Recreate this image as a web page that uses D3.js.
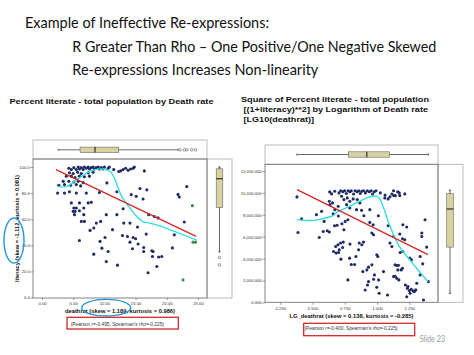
<!DOCTYPE html>
<html><head><meta charset="utf-8">
<script src="https://cdnjs.cloudflare.com/ajax/libs/d3/7.8.5/d3.min.js"></script>
<style>html,body{margin:0;padding:0;background:#fff;overflow:hidden}svg{display:block}</style>
</head><body>
<script>
// ---------- DATA ----------
const headerLines = ["Example of Ineffective Re-expressions:",
  "R Greater Than Rho \u2013 One Positive/One Negative Skewed",
  "Re-expressions Increases Non-linearity"];
const leftTitle = "Percent literate - total population by Death rate";
const rightTitle = ["Square of Percent literate - total population",
  " [(1+literacy)**2] by Logarithm of Death rate", " [LG10(deathrat)]"];
const leftXLabel = "deathrat (skew = 1.189, kurtosis = 0.986)";
const leftYLabel = "literacy (skew = -1.112, kurtosis = 0.081)";
const rightXLabel = "LG_deathrat (skew = 0.138, kurtosis = -0.285)";
const leftStats = ["(Pearson ", "r", "=-0.495, Spearman's ", "rho", "=-0.225)"];
const rightStats = ["(Pearson ", "r", "=-0.400, Spearman's ", "rho", "=-0.225)"];
const slideLabel = "Slide 23";

const leftXTicks = [0, 5, 10, 15, 20, 25];
const leftYTicks = [0, 20, 40, 60, 80, 100];
const rightXTicks = [0.25, 0.5, 0.75, 1.0, 1.25];
const rightYTicks = [0, 2000, 4000, 6000, 8000, 10000, 12000];

// [deathrate, literacy]
const leftPoints = [
 [4.3,99],[4.7,98],[5.1,99.5],[5.5,98],[5.8,100],[6.0,98.5],[6.3,99.5],[6.6,98],[6.8,100],[7.1,99],
 [7.4,100],[7.6,98.5],[7.9,99.5],[8.2,100],[8.4,98.5],[8.7,99.5],[9.0,100],[9.2,98.5],[9.5,99.5],[9.8,98.5],
 [10.0,100],[10.6,99],[10.8,100],[11.5,98],[12.6,97],[13.0,98],[13.4,99],[13.8,97.5],[14.2,98.5],[14.6,99],
 [14.8,100],[16.4,97],
 [4.4,95.5],[5.0,95],[5.7,96],[6.3,95],[7.4,95.5],[8.2,96],[12.3,96.5],
 [3.9,93],[4.7,93],[5.3,92],[6.0,93],[6.8,92.5],[7.6,93],
 [3.4,89],[4.3,89],[5.1,88.5],[5.8,89],[6.6,88],
 [2.7,86],[3.6,86.5],[4.6,86],[5.5,86.5],[6.2,85.5],
 [2.5,80],[3.6,80],[4.4,81],[5.5,80],[7.1,80],[9.2,80.5],
 [10.4,87.8],[12.0,81],[14.3,78.8],[15.1,77.5],[15.7,83.5],[16.8,82.5],[16.2,75.5],
 [23.2,85],[21.8,79],[22.0,77],
 [4.7,72.5],[6.0,72.5],[7.4,72.5],[7.9,73],
 [5.1,68.6],[5.5,68.6],[6.7,68.6],
 [5.0,66],[5.3,66],[6.0,66.5],
 [5.2,63.5],[6.7,63.5],[10.3,63.5],[12.0,63.5],[13.0,68],
 [6.3,58.3],[6.8,58.3],[8.7,57],[9.4,58.3],[13.1,57],[14.1,57],[15.3,54],[22.8,57.8],
 [17.1,63.5],[18.0,62],[18.6,61],
 [6.0,43.7],[7.7,51.4],[8.3,53.2],[11.3,52],[12.9,47.5],[13.7,46.8],[14.6,46],[15.0,45],[10.1,46],[9.3,43],
 [14.1,42.4],[15.4,41],[16.7,48.6],[9.6,37.8],[10.6,35.2],[8.3,33.2],[14.5,37.3],[16.3,38.3],[16.3,35.2],[17.6,35.8],
 [17.8,35.2],[17.7,31.4],[18.7,31],[19.2,31.4],[18.4,23.7],[17.0,19],[10.3,27.5],[12.1,24.8],[20.9,38],[21.2,48]
];
const leftGreenPoints = [[24.1,70.4],[22.6,13.5],[24.2,42.4],[24.6,42.4]];
const leftLoess = [[2.5,85],[4.0,85.2],[5.6,90.4],[7.2,95.5],[8.5,98],[9.8,98.5],[10.9,96.8],[11.7,90.4],
 [12.2,84],[13.0,75.5],[14.1,68.6],[15.2,62],[16.2,58],[16.9,57.4],[18.4,55.6],[21.0,51],[24.8,44]];
const leftFit = [[2.24,98],[24.7,46.8]];
const leftBoxDeath = [2.6, 6.1, 8.5, 12.3, 21.8];
const leftBoxDeathOut = [22.1, 22.8, 23.2, 24.0, 24.6];
const leftBoxLit = [35, 69, 91, 98.6, 100];
const leftBoxLitOut = [30.6, 25];

// [LG10(deathrat), (1+literacy)^2]
const rightPoints = [
 [0.379,9636],
 [0.633,10094],[0.648,9911],[0.672,10150],[0.705,10000],[0.718,10201],[0.735,10100],[0.748,10201],[0.762,9950],
 [0.775,10201],[0.790,10100],[0.800,10201],[0.818,9900],[0.830,10201],[0.845,10100],[0.858,10201],[0.870,9950],
 [0.882,10150],[0.895,10201],[0.910,10000],[0.924,10201],[0.940,10100],[0.954,10201],[0.965,9900],[0.978,10100],
 [0.992,10201],[1.025,10000],[1.062,9800],[1.100,9650],[1.115,9900],[1.128,10201],[1.142,9750],[1.160,10100],
 [1.172,10000],[1.215,9911],
 [0.63,9233],[0.655,9087],[0.725,9691],[0.743,9389],[0.769,9545],[0.789,9233],[0.815,9453],[0.846,9389],
 [0.867,9087],[1.06,9545],[1.086,9453],[1.13,9755],[1.176,9755],
 [0.764,8931],[0.789,8629],[0.699,8775],[0.673,8473],[0.635,8931],[0.841,8473],[0.88,8409],[0.898,7923],[0.944,8473],
 [0.53,8015],[0.57,8317],[0.415,7649],[0.59,7401],[0.66,8100],[0.70,7900],[0.728,7190],[0.753,7401],[0.774,7557],
 [0.69,7050],[0.67,7000],
 [1.01,7923],[0.944,7310],[0.97,7099],[1.086,7007],[1.2,7099],[1.23,6888],[1.372,7557],
 [0.387,6394],[0.552,5936],[0.583,6485],[0.614,6549],[0.63,6430],[0.743,6641],
 [0.679,5111],[0.697,5267],[0.717,5423],[0.738,5514],[0.733,5020],
 [0.663,4653],[0.683,4507],[0.702,4562],[0.707,4809],[0.72,3957],
 [0.787,4049],[0.836,4195],[0.8,3462],[0.826,3462],[0.774,2061],
 [0.79,5331],[0.862,5423],[0.882,5267],[0.895,5514],[0.857,4809],
 [0.96,6339],[0.973,6183],
 [0.89,2821],[0.921,2977],[0.934,3224],[0.96,3435],
 [0.908,1145],[0.926,1603],[0.934,1905],[0.973,2125],[0.98,2519],
 [1.006,4195],[0.998,4351],[1.012,2061],[0.998,1392],[1.016,843],[1.05,2821],[1.081,687],
 [1.1,5423],[1.115,5111],[1.128,6027],
 [1.14,3435],[1.153,3371],[1.166,3400],
 [1.161,2977],[1.187,2977],[1.197,3132],
 [1.128,2364],[1.153,2217],[1.14,2400],[1.169,2061],
 [1.22,1600],[1.235,1300],[1.25,1100],[1.24,1450],[1.265,1200],[1.28,1050],[1.29,1000],[1.30,1150],
 [1.23,531],[1.256,843],
 [1.347,6339],[1.347,6027],[1.385,5056],[1.334,4195],[1.354,3527],[1.334,2519],[1.308,1759],[1.36,229],[1.398,1905],
 [1.179,4562],[1.2,4653],[1.215,5725],[1.197,5817],[1.176,6247],[1.254,4049],[1.267,3893]
];
const rightLoess = [[0.38,7560],[0.51,7490],[0.6,7710],[0.66,7920],[0.69,8250],[0.76,8630],[0.84,9090],[0.92,9545],
 [0.97,9690],[1.0,9690],[1.025,9390],[1.06,8320],[1.086,7400],[1.104,6890],[1.138,5880],[1.19,4810],[1.254,3890],
 [1.306,3130],[1.396,1905]];
const rightFit = [[0.38,10300],[1.395,4380]];
const rightBoxLog = [0.379, 0.779, 0.921, 1.097, 1.398];
const rightBoxSq = [842, 5055, 8535, 9936, 10250];

// ---------- DRAW ----------
const W = 474, H = 355;
const svg = d3.select("body").append("svg").attr("width", W).attr("height", H);
svg.append("rect").attr("width", W).attr("height", H).attr("fill", "#fff");
const SANS = "'Liberation Sans', Arial, sans-serif";
const DOT = "#1f2b62", RED = "#d42a2a", CYAN = "#33dde0", BOXF = "#d8d2a0";

// header
const hdr = [{x:25, y:28.3, w:244}, {x:72.3, y:52.3, w:364}, {x:72.3, y:75.3, w:246}];
headerLines.forEach((t, i) => {
  svg.append("text").attr("x", hdr[i].x).attr("y", hdr[i].y).text(t)
    .attr("font-family", "Lato, 'Open Sans', sans-serif").attr("font-size", 15).attr("fill", "#111")
    .attr("textLength", hdr[i].w).attr("lengthAdjust", "spacingAndGlyphs");
});

// titles
svg.append("text").attr("x", 9.5).attr("y", 104).text(leftTitle)
  .attr("font-family", SANS).attr("font-weight", "bold").attr("font-size", 8).attr("fill", "#111")
  .attr("textLength", 204).attr("lengthAdjust", "spacingAndGlyphs");
const rt = [{x:241, y:101.7, w:188}, {x:241, y:111.8, w:187}, {x:241, y:121.8, w:73}];
rightTitle.forEach((t, i) => {
  svg.append("text").attr("x", rt[i].x).attr("y", rt[i].y).text(t).attr("xml:space", "preserve")
    .attr("font-family", SANS).attr("font-weight", "bold").attr("font-size", 8).attr("fill", "#111")
    .attr("textLength", rt[i].w).attr("lengthAdjust", "spacingAndGlyphs");
});

function frames(L, R, T, M, B, RP) {
  const g = svg.append("g").attr("fill", "none");
  g.append("rect").attr("x", L).attr("y", T).attr("width", R - L).attr("height", M - T).attr("stroke", "#aaa").attr("stroke-width", 0.8);
  g.append("rect").attr("x", R).attr("y", M).attr("width", RP - R).attr("height", B - M).attr("stroke", "#aaa").attr("stroke-width", 0.8);
  g.append("rect").attr("x", L).attr("y", M).attr("width", R - L).attr("height", B - M).attr("stroke", "#777").attr("stroke-width", 0.9);
}

function axisStyle(sel) {
  sel.select(".domain").remove();
  sel.attr("font-family", SANS).attr("font-size", 4.2);
  sel.selectAll("text").attr("fill", "#333");
  sel.selectAll("line").attr("stroke", "#555").attr("stroke-width", 0.6);
}

function hBox(x, cy, v, out) {
  const g = svg.append("g");
  g.append("line").attr("x1", x(v[0])).attr("x2", x(v[4])).attr("y1", cy).attr("y2", cy).attr("stroke", "#444").attr("stroke-width", 0.8);
  [v[0], v[4]].forEach(d => g.append("line").attr("x1", x(d)).attr("x2", x(d)).attr("y1", cy - 1.2).attr("y2", cy + 1.2).attr("stroke", "#444").attr("stroke-width", 0.7));
  g.append("rect").attr("x", x(v[1])).attr("y", cy - 2.7).attr("width", x(v[3]) - x(v[1])).attr("height", 5.4)
    .attr("fill", BOXF).attr("stroke", "#666").attr("stroke-width", 0.6);
  g.append("line").attr("x1", x(v[2])).attr("x2", x(v[2])).attr("y1", cy - 2.7).attr("y2", cy + 2.7).attr("stroke", "#222").attr("stroke-width", 1.1);
  g.selectAll("circle.o").data(out).enter().append("circle").attr("cx", d => x(d)).attr("cy", cy).attr("r", 1.3)
    .attr("fill", "none").attr("stroke", "#555").attr("stroke-width", 0.6);
}
function vBox(y, cx, v, out) {
  const g = svg.append("g");
  g.append("line").attr("y1", y(v[0])).attr("y2", y(v[4])).attr("x1", cx).attr("x2", cx).attr("stroke", "#666").attr("stroke-width", 1);
  [v[0], v[4]].forEach(d => g.append("line").attr("y1", y(d)).attr("y2", y(d)).attr("x1", cx - 1.2).attr("x2", cx + 1.2).attr("stroke", "#333").attr("stroke-width", 0.8));
  g.append("rect").attr("y", y(v[3])).attr("x", cx - 3.3).attr("height", y(v[1]) - y(v[3])).attr("width", 6.6)
    .attr("fill", BOXF).attr("stroke", "#666").attr("stroke-width", 0.6);
  g.append("line").attr("y1", y(v[2])).attr("y2", y(v[2])).attr("x1", cx - 3.3).attr("x2", cx + 3.3).attr("stroke", "#222").attr("stroke-width", 1.1);
  g.selectAll("circle.o").data(out).enter().append("circle").attr("cy", d => y(d)).attr("cx", cx).attr("r", 1.3)
    .attr("fill", "none").attr("stroke", "#555").attr("stroke-width", 0.6);
}

function statBox(parts, x0, y0, x1, y1, tx, ty) {
  svg.append("rect").attr("x", x0).attr("y", y0).attr("width", x1 - x0).attr("height", y1 - y0)
    .attr("fill", "none").attr("stroke", RED).attr("stroke-width", 1.3);
  const t = svg.append("text").attr("x", tx).attr("y", ty).attr("font-family", SANS).attr("font-size", 4.8).attr("fill", "#333");
  parts.forEach((p, i) => t.append("tspan").text(p).attr("font-style", i % 2 ? "italic" : "normal"));
}

// ---------- LEFT CHART ----------
const xL = d3.scaleLinear().domain([0, 25]).range([42, 198]);
const yL = d3.scaleLinear().domain([0, 100]).range([297.5, 167]);
frames(33, 207, 140, 159, 298, 232);
hBox(xL, 149.8, leftBoxDeath, leftBoxDeathOut);
vBox(yL, 219.5, leftBoxLit, leftBoxLitOut);

svg.append("g").attr("transform", "translate(0,298)")
  .call(d3.axisBottom(xL).tickValues(leftXTicks).tickFormat(d3.format(".2f")).tickSize(2).tickPadding(2)).call(axisStyle);
svg.append("g").attr("transform", "translate(33,0)")
  .call(d3.axisLeft(yL).tickValues(leftYTicks).tickFormat(d3.format(".1f")).tickSize(2.5).tickPadding(0.7)).call(axisStyle);

svg.append("g").selectAll("circle").data(leftPoints).enter().append("circle")
  .attr("cx", d => xL(d[0])).attr("cy", d => yL(d[1])).attr("r", 1.55).attr("fill", DOT);
svg.append("g").selectAll("circle").data(leftGreenPoints).enter().append("circle")
  .attr("cx", d => xL(d[0])).attr("cy", d => yL(d[1])).attr("r", 1.55).attr("fill", "#3b8a4e");

svg.append("path").datum(leftLoess).attr("fill", "none").attr("stroke", CYAN).attr("stroke-width", 1.4)
  .attr("d", d3.line().x(d => xL(d[0])).y(d => yL(d[1])).curve(d3.curveCatmullRom.alpha(0.5)));
svg.append("path").datum(leftFit).attr("fill", "none").attr("stroke", RED).attr("stroke-width", 1.4)
  .attr("d", d3.line().x(d => xL(d[0])).y(d => yL(d[1])));

svg.append("text").attr("x", 120).attr("y", 312.8).attr("text-anchor", "middle").text(leftXLabel)
  .attr("font-family", SANS).attr("font-weight", "bold").attr("font-size", 5.8).attr("fill", "#111")
  .attr("textLength", 110).attr("lengthAdjust", "spacingAndGlyphs");
svg.append("text").attr("transform", "translate(18.8,228.5) rotate(-90)").attr("text-anchor", "middle").text(leftYLabel)
  .attr("font-family", SANS).attr("font-weight", "bold").attr("font-size", 5.8).attr("fill", "#111")
  .attr("textLength", 107).attr("lengthAdjust", "spacingAndGlyphs");

statBox(leftStats, 67, 317.3, 178.3, 329, 70.7, 326);

// annotation ellipses
svg.append("ellipse").attr("cx", 14).attr("cy", 240.5).attr("rx", 10).attr("ry", 22.5)
  .attr("fill", "none").attr("stroke", "#1f98d4").attr("stroke-width", 1.4);
svg.append("ellipse").attr("cx", 106.2).attr("cy", 307.7).attr("rx", 24.5).attr("ry", 8.3)
  .attr("fill", "none").attr("stroke", "#1f98d4").attr("stroke-width", 1.4);

// ---------- RIGHT CHART ----------
const xR = d3.scaleLinear().domain([0.25, 1.25]).range([280.3, 409.3]);
const yR = d3.scaleLinear().domain([0, 12000]).range([302.5, 171]);
frames(265, 438, 145, 164.3, 302.3, 463);
hBox(xR, 154.5, rightBoxLog, []);
vBox(yR, 450, rightBoxSq, []);

svg.append("g").attr("transform", "translate(0,302.3)")
  .call(d3.axisBottom(xR).tickValues(rightXTicks).tickFormat(d3.format(".3f")).tickSize(2.5).tickPadding(1.8)).call(axisStyle);
svg.append("g").attr("transform", "translate(265,0)")
  .call(d3.axisLeft(yR).tickValues(rightYTicks).tickFormat(d3.format(",.3f")).tickSize(2.5).tickPadding(0.8)).call(axisStyle);

svg.append("g").selectAll("circle").data(rightPoints).enter().append("circle")
  .attr("cx", d => xR(d[0])).attr("cy", d => yR(d[1])).attr("r", 1.55).attr("fill", DOT);

svg.append("path").datum(rightLoess).attr("fill", "none").attr("stroke", CYAN).attr("stroke-width", 1.4)
  .attr("d", d3.line().x(d => xR(d[0])).y(d => yR(d[1])).curve(d3.curveCatmullRom.alpha(0.5)));
svg.append("path").datum(rightFit).attr("fill", "none").attr("stroke", RED).attr("stroke-width", 1.4)
  .attr("d", d3.line().x(d => xR(d[0])).y(d => yR(d[1])));

svg.append("text").attr("x", 351.5).attr("y", 317.5).attr("text-anchor", "middle").text(rightXLabel)
  .attr("font-family", SANS).attr("font-weight", "bold").attr("font-size", 5.8).attr("fill", "#111")
  .attr("textLength", 124).attr("lengthAdjust", "spacingAndGlyphs");

statBox(rightStats, 303.7, 323.3, 414.7, 335.7, 304.5, 330);

svg.append("text").attr("x", 419.7).attr("y", 341.5).text(slideLabel)
  .attr("font-family", "Lato, 'Open Sans', sans-serif").attr("font-size", 9).attr("fill", "#9a9a9a")
  .attr("textLength", 25.5).attr("lengthAdjust", "spacingAndGlyphs");
</script>
</body></html>
